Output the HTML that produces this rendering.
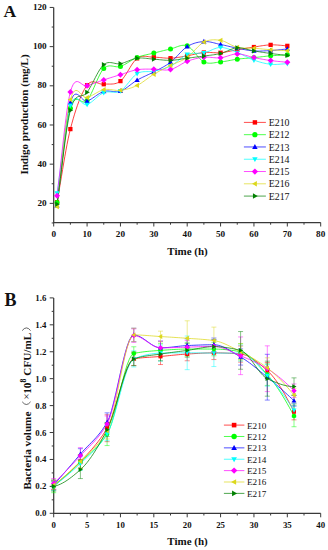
<!DOCTYPE html><html><head><meta charset="utf-8"><style>html,body{margin:0;padding:0;background:#fff;}svg{display:block;}text{font-family:"Liberation Serif",serif;}</style></head><body>
<svg width="328" height="550" viewBox="0 0 328 550">
<rect width="328" height="550" fill="#fff"/>
<text x="3.4" y="17.1" font-size="17.6" font-weight="bold" fill="#111">A</text>
<path d="M53.7,7.5 V222.5 H320.7" fill="none" stroke="#3a3a3a" stroke-width="1.25"/>
<text x="46.7" y="205.95" font-size="9.2" font-weight="bold" text-anchor="end" fill="#111">20</text>
<text x="46.7" y="166.77" font-size="9.2" font-weight="bold" text-anchor="end" fill="#111">40</text>
<text x="46.7" y="127.59" font-size="9.2" font-weight="bold" text-anchor="end" fill="#111">60</text>
<text x="46.7" y="88.41" font-size="9.2" font-weight="bold" text-anchor="end" fill="#111">80</text>
<text x="46.7" y="49.23" font-size="9.2" font-weight="bold" text-anchor="end" fill="#111">100</text>
<text x="46.7" y="10.05" font-size="9.2" font-weight="bold" text-anchor="end" fill="#111">120</text>
<text x="53.70" y="236.7" font-size="9.2" font-weight="bold" text-anchor="middle" fill="#111">0</text>
<text x="87.08" y="236.7" font-size="9.2" font-weight="bold" text-anchor="middle" fill="#111">10</text>
<text x="120.45" y="236.7" font-size="9.2" font-weight="bold" text-anchor="middle" fill="#111">20</text>
<text x="153.82" y="236.7" font-size="9.2" font-weight="bold" text-anchor="middle" fill="#111">30</text>
<text x="187.20" y="236.7" font-size="9.2" font-weight="bold" text-anchor="middle" fill="#111">40</text>
<text x="220.57" y="236.7" font-size="9.2" font-weight="bold" text-anchor="middle" fill="#111">50</text>
<text x="253.95" y="236.7" font-size="9.2" font-weight="bold" text-anchor="middle" fill="#111">60</text>
<text x="287.32" y="236.7" font-size="9.2" font-weight="bold" text-anchor="middle" fill="#111">70</text>
<text x="320.70" y="236.7" font-size="9.2" font-weight="bold" text-anchor="middle" fill="#111">80</text>
<path d="M49.7,203.35 H53.7 M49.7,164.17 H53.7 M49.7,124.99 H53.7 M49.7,85.81 H53.7 M49.7,46.63 H53.7 M49.7,7.45 H53.7 M51.7,222.94 H53.7 M51.7,183.76 H53.7 M51.7,144.58 H53.7 M51.7,105.40 H53.7 M51.7,66.22 H53.7 M51.7,27.04 H53.7 M53.70,222.5 V226.5 M87.08,222.5 V226.5 M120.45,222.5 V226.5 M153.82,222.5 V226.5 M187.20,222.5 V226.5 M220.57,222.5 V226.5 M253.95,222.5 V226.5 M287.32,222.5 V226.5 M320.70,222.5 V226.5 M70.39,222.5 V224.7 M103.76,222.5 V224.7 M137.14,222.5 V224.7 M170.51,222.5 V224.7 M203.89,222.5 V224.7 M237.26,222.5 V224.7 M270.64,222.5 V224.7 M304.01,222.5 V224.7" stroke="#3a3a3a" stroke-width="1" fill="none"/>
<text x="187.5" y="255" font-size="11" font-weight="bold" text-anchor="middle" fill="#111">Time (h)</text>
<text transform="translate(28.2,114.5) rotate(-90)" font-size="11" font-weight="bold" text-anchor="middle" fill="#111">Indigo production (mg/L)</text>
<path d="M57.04,202.17 L58.15,195.95 L59.26,189.51 L60.38,182.92 L61.49,176.26 L62.60,169.59 L63.71,163.00 L64.83,156.56 L65.94,150.34 L67.05,144.41 L68.16,138.84 L69.28,133.72 L70.39,129.10 L71.78,123.83 L73.17,118.85 L74.56,114.16 L75.95,109.76 L77.34,105.66 L78.73,101.85 L80.12,98.33 L81.51,95.11 L82.90,92.19 L84.29,89.56 L85.68,87.24 L87.08,85.22 L88.47,83.65 L89.86,82.60 L91.25,82.01 L92.64,81.80 L94.03,81.88 L95.42,82.19 L96.81,82.63 L98.20,83.14 L99.59,83.63 L100.98,84.03 L102.37,84.26 L103.76,84.24 L105.15,84.12 L106.54,84.07 L107.93,84.07 L109.33,84.08 L110.72,84.08 L112.11,84.03 L113.50,83.91 L114.89,83.68 L116.28,83.32 L117.67,82.79 L119.06,82.06 L120.45,81.11 L121.84,79.83 L123.23,78.21 L124.62,76.30 L126.01,74.19 L127.40,71.94 L128.79,69.62 L130.18,67.32 L131.57,65.09 L132.97,63.01 L134.36,61.15 L135.75,59.59 L137.14,58.38 L138.53,57.52 L139.92,56.92 L141.31,56.52 L142.70,56.32 L144.09,56.26 L145.48,56.31 L146.87,56.45 L148.26,56.64 L149.65,56.85 L151.04,57.03 L152.43,57.16 L153.82,57.21 L155.22,57.23 L156.61,57.29 L158.00,57.38 L159.39,57.50 L160.78,57.63 L162.17,57.77 L163.56,57.91 L164.95,58.03 L166.34,58.13 L167.73,58.19 L169.12,58.22 L170.51,58.19 L171.90,58.11 L173.29,58.00 L174.68,57.86 L176.07,57.69 L177.47,57.49 L178.86,57.28 L180.25,57.05 L181.64,56.82 L183.03,56.57 L184.42,56.32 L185.81,56.08 L187.20,55.84 L188.59,55.58 L189.98,55.30 L191.37,54.99 L192.76,54.67 L194.15,54.34 L195.54,54.01 L196.93,53.69 L198.32,53.39 L199.72,53.11 L201.11,52.87 L202.50,52.66 L203.89,52.51 L205.28,52.41 L206.67,52.37 L208.06,52.38 L209.45,52.43 L210.84,52.50 L212.23,52.58 L213.62,52.66 L215.01,52.74 L216.40,52.79 L217.79,52.81 L219.18,52.79 L220.57,52.70 L221.97,52.57 L223.36,52.39 L224.75,52.18 L226.14,51.95 L227.53,51.69 L228.92,51.42 L230.31,51.13 L231.70,50.85 L233.09,50.56 L234.48,50.28 L235.87,50.01 L237.26,49.76 L238.65,49.53 L240.04,49.29 L241.43,49.05 L242.82,48.81 L244.22,48.58 L245.61,48.34 L247.00,48.11 L248.39,47.89 L249.78,47.66 L251.17,47.44 L252.56,47.23 L253.95,47.02 L255.34,46.81 L256.73,46.59 L258.12,46.37 L259.51,46.14 L260.90,45.92 L262.29,45.71 L263.68,45.51 L265.07,45.33 L266.47,45.17 L267.86,45.04 L269.25,44.93 L270.64,44.87 L272.03,44.84 L273.42,44.85 L274.81,44.89 L276.20,44.96 L277.59,45.05 L278.98,45.16 L280.37,45.28 L281.76,45.40 L283.15,45.53 L284.54,45.65 L285.93,45.75 L287.32,45.85" fill="none" stroke="#ff0000" stroke-width="0.75"/>
<path d="M57.04,202.57 L58.15,194.40 L59.26,185.73 L60.38,176.72 L61.49,167.54 L62.60,158.36 L63.71,149.34 L64.83,140.67 L65.94,132.51 L67.05,125.02 L68.16,118.39 L69.28,112.77 L70.39,108.34 L71.78,104.34 L73.17,101.66 L74.56,100.07 L75.95,99.38 L77.34,99.37 L78.73,99.82 L80.12,100.53 L81.51,101.28 L82.90,101.87 L84.29,102.07 L85.68,101.69 L87.08,100.50 L88.47,98.59 L89.86,96.23 L91.25,93.52 L92.64,90.54 L94.03,87.40 L95.42,84.18 L96.81,80.98 L98.20,77.90 L99.59,75.02 L100.98,72.45 L102.37,70.27 L103.76,68.57 L105.15,67.37 L106.54,66.57 L107.93,66.10 L109.33,65.90 L110.72,65.91 L112.11,66.06 L113.50,66.29 L114.89,66.54 L116.28,66.74 L117.67,66.83 L119.06,66.74 L120.45,66.42 L121.84,65.89 L123.23,65.26 L124.62,64.53 L126.01,63.75 L127.40,62.91 L128.79,62.04 L130.18,61.17 L131.57,60.31 L132.97,59.49 L134.36,58.71 L135.75,58.01 L137.14,57.40 L138.53,56.88 L139.92,56.41 L141.31,55.99 L142.70,55.61 L144.09,55.27 L145.48,54.94 L146.87,54.64 L148.26,54.34 L149.65,54.05 L151.04,53.75 L152.43,53.43 L153.82,53.09 L155.22,52.74 L156.61,52.39 L158.00,52.03 L159.39,51.67 L160.78,51.32 L162.17,50.96 L163.56,50.62 L164.95,50.27 L166.34,49.94 L167.73,49.61 L169.12,49.29 L170.51,48.98 L171.90,48.62 L173.29,48.18 L174.68,47.68 L176.07,47.15 L177.47,46.63 L178.86,46.15 L180.25,45.74 L181.64,45.43 L183.03,45.26 L184.42,45.25 L185.81,45.43 L187.20,45.85 L188.59,46.56 L189.98,47.60 L191.37,48.89 L192.76,50.37 L194.15,51.99 L195.54,53.68 L196.93,55.38 L198.32,57.03 L199.72,58.57 L201.11,59.94 L202.50,61.07 L203.89,61.91 L205.28,62.48 L206.67,62.87 L208.06,63.10 L209.45,63.20 L210.84,63.19 L212.23,63.09 L213.62,62.92 L215.01,62.71 L216.40,62.48 L217.79,62.25 L219.18,62.06 L220.57,61.91 L221.97,61.77 L223.36,61.60 L224.75,61.39 L226.14,61.16 L227.53,60.90 L228.92,60.64 L230.31,60.37 L231.70,60.10 L233.09,59.83 L234.48,59.59 L235.87,59.36 L237.26,59.17 L238.65,59.00 L240.04,58.84 L241.43,58.70 L242.82,58.57 L244.22,58.44 L245.61,58.32 L247.00,58.21 L248.39,58.09 L249.78,57.98 L251.17,57.86 L252.56,57.73 L253.95,57.60 L255.34,57.46 L256.73,57.31 L258.12,57.16 L259.51,57.00 L260.90,56.84 L262.29,56.68 L263.68,56.53 L265.07,56.37 L266.47,56.23 L267.86,56.09 L269.25,55.96 L270.64,55.84 L272.03,55.73 L273.42,55.63 L274.81,55.54 L276.20,55.45 L277.59,55.37 L278.98,55.30 L280.37,55.23 L281.76,55.16 L283.15,55.08 L284.54,55.01 L285.93,54.94 L287.32,54.86" fill="none" stroke="#00ff00" stroke-width="0.75"/>
<path d="M57.04,205.70 L58.15,196.75 L59.26,187.22 L60.38,177.29 L61.49,167.16 L62.60,157.04 L63.71,147.11 L64.83,137.57 L65.94,128.63 L67.05,120.47 L68.16,113.29 L69.28,107.28 L70.39,102.66 L71.78,98.59 L73.17,95.94 L74.56,94.50 L75.95,94.05 L77.34,94.39 L78.73,95.31 L80.12,96.59 L81.51,98.02 L82.90,99.40 L84.29,100.51 L85.68,101.14 L87.08,101.09 L88.47,100.54 L89.86,99.85 L91.25,99.04 L92.64,98.14 L94.03,97.19 L95.42,96.22 L96.81,95.24 L98.20,94.31 L99.59,93.43 L100.98,92.65 L102.37,91.99 L103.76,91.49 L105.15,91.17 L106.54,91.02 L107.93,90.99 L109.33,91.07 L110.72,91.21 L112.11,91.38 L113.50,91.55 L114.89,91.67 L116.28,91.73 L117.67,91.67 L119.06,91.47 L120.45,91.10 L121.84,90.55 L123.23,89.85 L124.62,89.04 L126.01,88.12 L127.40,87.14 L128.79,86.10 L130.18,85.04 L131.57,83.97 L132.97,82.93 L134.36,81.92 L135.75,80.98 L137.14,80.13 L138.53,79.35 L139.92,78.61 L141.31,77.91 L142.70,77.23 L144.09,76.58 L145.48,75.93 L146.87,75.29 L148.26,74.64 L149.65,73.99 L151.04,73.32 L152.43,72.63 L153.82,71.90 L155.22,71.17 L156.61,70.45 L158.00,69.74 L159.39,69.03 L160.78,68.31 L162.17,67.57 L163.56,66.80 L164.95,66.00 L166.34,65.16 L167.73,64.27 L169.12,63.32 L170.51,62.30 L171.90,61.17 L173.29,59.92 L174.68,58.56 L176.07,57.14 L177.47,55.67 L178.86,54.18 L180.25,52.72 L181.64,51.30 L183.03,49.95 L184.42,48.70 L185.81,47.58 L187.20,46.63 L188.59,45.81 L189.98,45.08 L191.37,44.42 L192.76,43.85 L194.15,43.35 L195.54,42.92 L196.93,42.55 L198.32,42.25 L199.72,42.00 L201.11,41.80 L202.50,41.65 L203.89,41.54 L205.28,41.50 L206.67,41.55 L208.06,41.69 L209.45,41.89 L210.84,42.15 L212.23,42.45 L213.62,42.79 L215.01,43.14 L216.40,43.50 L217.79,43.85 L219.18,44.18 L220.57,44.48 L221.97,44.76 L223.36,45.06 L224.75,45.37 L226.14,45.69 L227.53,46.02 L228.92,46.35 L230.31,46.68 L231.70,47.00 L233.09,47.32 L234.48,47.62 L235.87,47.92 L237.26,48.20 L238.65,48.47 L240.04,48.75 L241.43,49.03 L242.82,49.30 L244.22,49.57 L245.61,49.83 L247.00,50.07 L248.39,50.29 L249.78,50.50 L251.17,50.68 L252.56,50.82 L253.95,50.94 L255.34,51.02 L256.73,51.07 L258.12,51.09 L259.51,51.08 L260.90,51.06 L262.29,51.01 L263.68,50.95 L265.07,50.88 L266.47,50.80 L267.86,50.72 L269.25,50.63 L270.64,50.55 L272.03,50.46 L273.42,50.35 L274.81,50.24 L276.20,50.11 L277.59,49.98 L278.98,49.84 L280.37,49.69 L281.76,49.55 L283.15,49.40 L284.54,49.26 L285.93,49.12 L287.32,48.98" fill="none" stroke="#0000ff" stroke-width="0.75"/>
<path d="M57.04,193.16 L58.15,185.54 L59.26,177.42 L60.38,168.95 L61.49,160.32 L62.60,151.69 L63.71,143.23 L64.83,135.10 L65.94,127.48 L67.05,120.53 L68.16,114.42 L69.28,109.32 L70.39,105.40 L71.78,101.98 L73.17,99.80 L74.56,98.66 L75.95,98.38 L77.34,98.78 L78.73,99.65 L80.12,100.83 L81.51,102.12 L82.90,103.33 L84.29,104.27 L85.68,104.76 L87.08,104.62 L88.47,103.98 L89.86,103.15 L91.25,102.18 L92.64,101.08 L94.03,99.91 L95.42,98.70 L96.81,97.49 L98.20,96.31 L99.59,95.20 L100.98,94.20 L102.37,93.34 L103.76,92.67 L105.15,92.21 L106.54,91.96 L107.93,91.87 L109.33,91.90 L110.72,91.99 L112.11,92.12 L113.50,92.22 L114.89,92.26 L116.28,92.19 L117.67,91.97 L119.06,91.56 L120.45,90.90 L121.84,89.96 L123.23,88.76 L124.62,87.34 L126.01,85.76 L127.40,84.07 L128.79,82.33 L130.18,80.59 L131.57,78.90 L132.97,77.30 L134.36,75.87 L135.75,74.64 L137.14,73.66 L138.53,72.95 L139.92,72.42 L141.31,72.05 L142.70,71.81 L144.09,71.68 L145.48,71.62 L146.87,71.60 L148.26,71.60 L149.65,71.58 L151.04,71.51 L152.43,71.37 L153.82,71.12 L155.22,70.81 L156.61,70.52 L158.00,70.22 L159.39,69.91 L160.78,69.59 L162.17,69.24 L163.56,68.87 L164.95,68.45 L166.34,67.98 L167.73,67.46 L169.12,66.88 L170.51,66.22 L171.90,65.45 L173.29,64.54 L174.68,63.52 L176.07,62.43 L177.47,61.29 L178.86,60.13 L180.25,58.99 L181.64,57.88 L183.03,56.85 L184.42,55.91 L185.81,55.11 L187.20,54.47 L188.59,53.99 L189.98,53.66 L191.37,53.45 L192.76,53.33 L194.15,53.29 L195.54,53.29 L196.93,53.31 L198.32,53.33 L199.72,53.33 L201.11,53.27 L202.50,53.13 L203.89,52.90 L205.28,52.55 L206.67,52.09 L208.06,51.56 L209.45,50.97 L210.84,50.36 L212.23,49.74 L213.62,49.15 L215.01,48.60 L216.40,48.13 L217.79,47.76 L219.18,47.51 L220.57,47.41 L221.97,47.46 L223.36,47.62 L224.75,47.88 L226.14,48.23 L227.53,48.66 L228.92,49.14 L230.31,49.67 L231.70,50.23 L233.09,50.81 L234.48,51.39 L235.87,51.96 L237.26,52.51 L238.65,53.07 L240.04,53.67 L241.43,54.32 L242.82,55.00 L244.22,55.69 L245.61,56.39 L247.00,57.08 L248.39,57.77 L249.78,58.43 L251.17,59.05 L252.56,59.63 L253.95,60.15 L255.34,60.63 L256.73,61.09 L258.12,61.53 L259.51,61.95 L260.90,62.35 L262.29,62.72 L263.68,63.06 L265.07,63.37 L266.47,63.65 L267.86,63.89 L269.25,64.09 L270.64,64.26 L272.03,64.38 L273.42,64.44 L274.81,64.44 L276.20,64.41 L277.59,64.35 L278.98,64.26 L280.37,64.16 L281.76,64.04 L283.15,63.93 L284.54,63.83 L285.93,63.74 L287.32,63.67" fill="none" stroke="#00ffff" stroke-width="0.75"/>
<path d="M57.04,195.71 L58.15,186.71 L59.26,177.13 L60.38,167.18 L61.49,157.03 L62.60,146.88 L63.71,136.92 L64.83,127.35 L65.94,118.35 L67.05,110.11 L68.16,102.82 L69.28,96.69 L70.39,91.88 L71.78,87.53 L73.17,84.50 L74.56,82.63 L75.95,81.71 L77.34,81.55 L78.73,81.96 L80.12,82.76 L81.51,83.75 L82.90,84.74 L84.29,85.54 L85.68,85.96 L87.08,85.81 L88.47,85.31 L89.86,84.81 L91.25,84.31 L92.64,83.81 L94.03,83.32 L95.42,82.82 L96.81,82.33 L98.20,81.84 L99.59,81.36 L100.98,80.88 L102.37,80.40 L103.76,79.93 L105.15,79.47 L106.54,79.01 L107.93,78.56 L109.33,78.11 L110.72,77.67 L112.11,77.23 L113.50,76.79 L114.89,76.36 L116.28,75.92 L117.67,75.50 L119.06,75.07 L120.45,74.64 L121.84,74.21 L123.23,73.75 L124.62,73.29 L126.01,72.82 L127.40,72.36 L128.79,71.90 L130.18,71.46 L131.57,71.04 L132.97,70.66 L134.36,70.31 L135.75,70.00 L137.14,69.75 L138.53,69.54 L139.92,69.39 L141.31,69.27 L142.70,69.19 L144.09,69.15 L145.48,69.12 L146.87,69.12 L148.26,69.12 L149.65,69.14 L151.04,69.15 L152.43,69.16 L153.82,69.16 L155.22,69.18 L156.61,69.27 L158.00,69.39 L159.39,69.54 L160.78,69.69 L162.17,69.83 L163.56,69.95 L164.95,70.02 L166.34,70.04 L167.73,69.97 L169.12,69.82 L170.51,69.55 L171.90,69.15 L173.29,68.63 L174.68,68.00 L176.07,67.29 L177.47,66.52 L178.86,65.72 L180.25,64.90 L181.64,64.08 L183.03,63.29 L184.42,62.56 L185.81,61.89 L187.20,61.32 L188.59,60.82 L189.98,60.34 L191.37,59.89 L192.76,59.47 L194.15,59.08 L195.54,58.71 L196.93,58.38 L198.32,58.08 L199.72,57.81 L201.11,57.57 L202.50,57.37 L203.89,57.21 L205.28,57.11 L206.67,57.09 L208.06,57.13 L209.45,57.22 L210.84,57.35 L212.23,57.49 L213.62,57.63 L215.01,57.76 L216.40,57.86 L217.79,57.90 L219.18,57.89 L220.57,57.80 L221.97,57.60 L223.36,57.32 L224.75,56.95 L226.14,56.54 L227.53,56.10 L228.92,55.64 L230.31,55.20 L231.70,54.79 L233.09,54.43 L234.48,54.14 L235.87,53.95 L237.26,53.88 L238.65,53.92 L240.04,54.07 L241.43,54.29 L242.82,54.58 L244.22,54.93 L245.61,55.31 L247.00,55.72 L248.39,56.13 L249.78,56.55 L251.17,56.94 L252.56,57.29 L253.95,57.60 L255.34,57.88 L256.73,58.15 L258.12,58.42 L259.51,58.68 L260.90,58.94 L262.29,59.19 L263.68,59.44 L265.07,59.68 L266.47,59.91 L267.86,60.13 L269.25,60.34 L270.64,60.54 L272.03,60.73 L273.42,60.90 L274.81,61.06 L276.20,61.21 L277.59,61.36 L278.98,61.49 L280.37,61.63 L281.76,61.76 L283.15,61.89 L284.54,62.02 L285.93,62.16 L287.32,62.30" fill="none" stroke="#ff00ff" stroke-width="0.75"/>
<path d="M57.04,206.68 L58.15,197.38 L59.26,187.46 L60.38,177.14 L61.49,166.62 L62.60,156.09 L63.71,145.77 L64.83,135.85 L65.94,126.55 L67.05,118.06 L68.16,110.59 L69.28,104.35 L70.39,99.52 L71.78,95.27 L73.17,92.48 L74.56,90.92 L75.95,90.40 L77.34,90.69 L78.73,91.58 L80.12,92.86 L81.51,94.31 L82.90,95.72 L84.29,96.87 L85.68,97.56 L87.08,97.56 L88.47,97.09 L89.86,96.50 L91.25,95.82 L92.64,95.08 L94.03,94.29 L95.42,93.49 L96.81,92.69 L98.20,91.93 L99.59,91.23 L100.98,90.61 L102.37,90.10 L103.76,89.73 L105.15,89.50 L106.54,89.40 L107.93,89.41 L109.33,89.50 L110.72,89.65 L112.11,89.84 L113.50,90.03 L114.89,90.21 L116.28,90.36 L117.67,90.44 L119.06,90.43 L120.45,90.32 L121.84,90.12 L123.23,89.89 L124.62,89.62 L126.01,89.32 L127.40,88.98 L128.79,88.60 L130.18,88.18 L131.57,87.72 L132.97,87.21 L134.36,86.66 L135.75,86.06 L137.14,85.42 L138.53,84.70 L139.92,83.89 L141.31,83.01 L142.70,82.07 L144.09,81.09 L145.48,80.08 L146.87,79.06 L148.26,78.03 L149.65,77.03 L151.04,76.05 L152.43,75.12 L153.82,74.25 L155.22,73.43 L156.61,72.64 L158.00,71.86 L159.39,71.11 L160.78,70.37 L162.17,69.65 L163.56,68.93 L164.95,68.23 L166.34,67.53 L167.73,66.83 L169.12,66.14 L170.51,65.44 L171.90,64.76 L173.29,64.14 L174.68,63.54 L176.07,62.97 L177.47,62.40 L178.86,61.82 L180.25,61.23 L181.64,60.59 L183.03,59.90 L184.42,59.15 L185.81,58.33 L187.20,57.40 L188.59,56.34 L189.98,55.12 L191.37,53.78 L192.76,52.35 L194.15,50.87 L195.54,49.37 L196.93,47.90 L198.32,46.48 L199.72,45.16 L201.11,43.97 L202.50,42.95 L203.89,42.12 L205.28,41.48 L206.67,40.95 L208.06,40.53 L209.45,40.21 L210.84,39.99 L212.23,39.85 L213.62,39.79 L215.01,39.80 L216.40,39.87 L217.79,39.99 L219.18,40.16 L220.57,40.36 L221.97,40.66 L223.36,41.10 L224.75,41.65 L226.14,42.29 L227.53,42.99 L228.92,43.73 L230.31,44.47 L231.70,45.20 L233.09,45.88 L234.48,46.50 L235.87,47.02 L237.26,47.41 L238.65,47.70 L240.04,47.90 L241.43,48.03 L242.82,48.11 L244.22,48.14 L245.61,48.15 L247.00,48.13 L248.39,48.11 L249.78,48.09 L251.17,48.09 L252.56,48.12 L253.95,48.20 L255.34,48.30 L256.73,48.42 L258.12,48.55 L259.51,48.68 L260.90,48.82 L262.29,48.97 L263.68,49.11 L265.07,49.26 L266.47,49.40 L267.86,49.53 L269.25,49.65 L270.64,49.76 L272.03,49.87 L273.42,49.96 L274.81,50.05 L276.20,50.13 L277.59,50.21 L278.98,50.29 L280.37,50.37 L281.76,50.44 L283.15,50.51 L284.54,50.59 L285.93,50.66 L287.32,50.74" fill="none" stroke="#dcd81c" stroke-width="0.75"/>
<path d="M57.04,204.13 L58.15,196.03 L59.26,187.47 L60.38,178.61 L61.49,169.59 L62.60,160.57 L63.71,151.70 L64.83,143.14 L65.94,135.04 L67.05,127.55 L68.16,120.83 L69.28,115.03 L70.39,110.30 L71.78,105.74 L73.17,102.30 L74.56,99.81 L75.95,98.11 L77.34,97.02 L78.73,96.37 L80.12,96.00 L81.51,95.73 L82.90,95.39 L84.29,94.81 L85.68,93.83 L87.08,92.27 L88.47,90.22 L89.86,87.92 L91.25,85.42 L92.64,82.79 L94.03,80.10 L95.42,77.40 L96.81,74.76 L98.20,72.24 L99.59,69.91 L100.98,67.83 L102.37,66.05 L103.76,64.65 L105.15,63.65 L106.54,63.00 L107.93,62.64 L109.33,62.52 L110.72,62.58 L112.11,62.78 L113.50,63.05 L114.89,63.35 L116.28,63.61 L117.67,63.79 L119.06,63.83 L120.45,63.67 L121.84,63.35 L123.23,62.95 L124.62,62.47 L126.01,61.94 L127.40,61.38 L128.79,60.81 L130.18,60.24 L131.57,59.70 L132.97,59.21 L134.36,58.78 L135.75,58.43 L137.14,58.19 L138.53,58.04 L139.92,57.97 L141.31,57.97 L142.70,58.03 L144.09,58.13 L145.48,58.26 L146.87,58.42 L148.26,58.59 L149.65,58.76 L151.04,58.92 L152.43,59.06 L153.82,59.17 L155.22,59.27 L156.61,59.39 L158.00,59.53 L159.39,59.67 L160.78,59.81 L162.17,59.95 L163.56,60.08 L164.95,60.19 L166.34,60.28 L167.73,60.34 L169.12,60.36 L170.51,60.34 L171.90,60.28 L173.29,60.18 L174.68,60.04 L176.07,59.87 L177.47,59.68 L178.86,59.47 L180.25,59.25 L181.64,59.03 L183.03,58.80 L184.42,58.59 L185.81,58.38 L187.20,58.19 L188.59,58.01 L189.98,57.83 L191.37,57.66 L192.76,57.48 L194.15,57.31 L195.54,57.14 L196.93,56.96 L198.32,56.78 L199.72,56.60 L201.11,56.42 L202.50,56.23 L203.89,56.03 L205.28,55.84 L206.67,55.67 L208.06,55.50 L209.45,55.33 L210.84,55.16 L212.23,54.98 L213.62,54.79 L215.01,54.58 L216.40,54.35 L217.79,54.10 L219.18,53.81 L220.57,53.49 L221.97,53.09 L223.36,52.62 L224.75,52.08 L226.14,51.50 L227.53,50.90 L228.92,50.29 L230.31,49.71 L231.70,49.16 L233.09,48.68 L234.48,48.28 L235.87,47.98 L237.26,47.81 L238.65,47.76 L240.04,47.82 L241.43,47.98 L242.82,48.22 L244.22,48.52 L245.61,48.86 L247.00,49.23 L248.39,49.61 L249.78,49.99 L251.17,50.35 L252.56,50.67 L253.95,50.94 L255.34,51.17 L256.73,51.41 L258.12,51.63 L259.51,51.85 L260.90,52.07 L262.29,52.29 L263.68,52.50 L265.07,52.70 L266.47,52.90 L267.86,53.10 L269.25,53.30 L270.64,53.49 L272.03,53.67 L273.42,53.85 L274.81,54.02 L276.20,54.18 L277.59,54.34 L278.98,54.50 L280.37,54.66 L281.76,54.81 L283.15,54.97 L284.54,55.13 L285.93,55.28 L287.32,55.45" fill="none" stroke="#008000" stroke-width="0.75"/>
<rect x="54.91" y="200.05" width="4.25" height="4.25" fill="#ff0000"/>
<rect x="68.26" y="126.98" width="4.25" height="4.25" fill="#ff0000"/>
<rect x="84.95" y="83.10" width="4.25" height="4.25" fill="#ff0000"/>
<rect x="101.64" y="82.12" width="4.25" height="4.25" fill="#ff0000"/>
<rect x="118.33" y="78.98" width="4.25" height="4.25" fill="#ff0000"/>
<rect x="135.01" y="56.26" width="4.25" height="4.25" fill="#ff0000"/>
<rect x="151.70" y="55.08" width="4.25" height="4.25" fill="#ff0000"/>
<rect x="168.39" y="56.06" width="4.25" height="4.25" fill="#ff0000"/>
<rect x="185.07" y="53.71" width="4.25" height="4.25" fill="#ff0000"/>
<rect x="201.76" y="50.38" width="4.25" height="4.25" fill="#ff0000"/>
<rect x="218.45" y="50.58" width="4.25" height="4.25" fill="#ff0000"/>
<rect x="235.14" y="47.64" width="4.25" height="4.25" fill="#ff0000"/>
<rect x="251.82" y="44.90" width="4.25" height="4.25" fill="#ff0000"/>
<rect x="268.51" y="42.74" width="4.25" height="4.25" fill="#ff0000"/>
<rect x="285.20" y="43.72" width="4.25" height="4.25" fill="#ff0000"/>
<circle cx="57.04" cy="202.57" r="2.50" fill="#00ff00"/>
<circle cx="70.39" cy="108.34" r="2.50" fill="#00ff00"/>
<circle cx="87.08" cy="100.50" r="2.50" fill="#00ff00"/>
<circle cx="103.76" cy="68.57" r="2.50" fill="#00ff00"/>
<circle cx="120.45" cy="66.42" r="2.50" fill="#00ff00"/>
<circle cx="137.14" cy="57.40" r="2.50" fill="#00ff00"/>
<circle cx="153.82" cy="53.09" r="2.50" fill="#00ff00"/>
<circle cx="170.51" cy="48.98" r="2.50" fill="#00ff00"/>
<circle cx="187.20" cy="45.85" r="2.50" fill="#00ff00"/>
<circle cx="203.89" cy="61.91" r="2.50" fill="#00ff00"/>
<circle cx="220.57" cy="61.91" r="2.50" fill="#00ff00"/>
<circle cx="237.26" cy="59.17" r="2.50" fill="#00ff00"/>
<circle cx="253.95" cy="57.60" r="2.50" fill="#00ff00"/>
<circle cx="270.64" cy="55.84" r="2.50" fill="#00ff00"/>
<circle cx="287.32" cy="54.86" r="2.50" fill="#00ff00"/>
<path d="M57.04,202.95 L59.66,207.58 L54.41,207.58 Z" fill="#0000ff"/>
<path d="M70.39,99.91 L73.01,104.53 L67.76,104.53 Z" fill="#0000ff"/>
<path d="M87.08,98.34 L89.70,102.97 L84.45,102.97 Z" fill="#0000ff"/>
<path d="M103.76,88.74 L106.39,93.37 L101.14,93.37 Z" fill="#0000ff"/>
<path d="M120.45,88.35 L123.08,92.97 L117.83,92.97 Z" fill="#0000ff"/>
<path d="M137.14,77.38 L139.76,82.00 L134.51,82.00 Z" fill="#0000ff"/>
<path d="M153.82,69.15 L156.45,73.78 L151.20,73.78 Z" fill="#0000ff"/>
<path d="M170.51,59.55 L173.14,64.18 L167.89,64.18 Z" fill="#0000ff"/>
<path d="M187.20,43.88 L189.82,48.51 L184.57,48.51 Z" fill="#0000ff"/>
<path d="M203.89,38.79 L206.51,43.41 L201.26,43.41 Z" fill="#0000ff"/>
<path d="M220.57,41.73 L223.20,46.35 L217.95,46.35 Z" fill="#0000ff"/>
<path d="M237.26,45.45 L239.89,50.07 L234.64,50.07 Z" fill="#0000ff"/>
<path d="M253.95,48.19 L256.57,52.81 L251.32,52.81 Z" fill="#0000ff"/>
<path d="M270.64,47.80 L273.26,52.42 L268.01,52.42 Z" fill="#0000ff"/>
<path d="M287.32,46.23 L289.95,50.86 L284.70,50.86 Z" fill="#0000ff"/>
<path d="M57.04,195.91 L59.66,191.29 L54.41,191.29 Z" fill="#00ffff"/>
<path d="M70.39,108.15 L73.01,103.53 L67.76,103.53 Z" fill="#00ffff"/>
<path d="M87.08,107.37 L89.70,102.74 L84.45,102.74 Z" fill="#00ffff"/>
<path d="M103.76,95.42 L106.39,90.79 L101.14,90.79 Z" fill="#00ffff"/>
<path d="M120.45,93.65 L123.08,89.03 L117.83,89.03 Z" fill="#00ffff"/>
<path d="M137.14,76.41 L139.76,71.79 L134.51,71.79 Z" fill="#00ffff"/>
<path d="M153.82,73.87 L156.45,69.24 L151.20,69.24 Z" fill="#00ffff"/>
<path d="M170.51,68.97 L173.14,64.34 L167.89,64.34 Z" fill="#00ffff"/>
<path d="M187.20,57.22 L189.82,52.59 L184.57,52.59 Z" fill="#00ffff"/>
<path d="M203.89,55.65 L206.51,51.02 L201.26,51.02 Z" fill="#00ffff"/>
<path d="M220.57,50.16 L223.20,45.54 L217.95,45.54 Z" fill="#00ffff"/>
<path d="M237.26,55.26 L239.89,50.63 L234.64,50.63 Z" fill="#00ffff"/>
<path d="M253.95,62.90 L256.57,58.27 L251.32,58.27 Z" fill="#00ffff"/>
<path d="M270.64,67.01 L273.26,62.39 L268.01,62.39 Z" fill="#00ffff"/>
<path d="M287.32,66.42 L289.95,61.80 L284.70,61.80 Z" fill="#00ffff"/>
<path d="M57.04,192.71 L60.04,195.71 L57.04,198.71 L54.04,195.71 Z" fill="#ff00ff"/>
<path d="M70.39,88.88 L73.39,91.88 L70.39,94.88 L67.39,91.88 Z" fill="#ff00ff"/>
<path d="M87.08,82.81 L90.08,85.81 L87.08,88.81 L84.08,85.81 Z" fill="#ff00ff"/>
<path d="M103.76,76.93 L106.76,79.93 L103.76,82.93 L100.76,79.93 Z" fill="#ff00ff"/>
<path d="M120.45,71.64 L123.45,74.64 L120.45,77.64 L117.45,74.64 Z" fill="#ff00ff"/>
<path d="M137.14,66.75 L140.14,69.75 L137.14,72.75 L134.14,69.75 Z" fill="#ff00ff"/>
<path d="M153.82,66.16 L156.82,69.16 L153.82,72.16 L150.82,69.16 Z" fill="#ff00ff"/>
<path d="M170.51,66.55 L173.51,69.55 L170.51,72.55 L167.51,69.55 Z" fill="#ff00ff"/>
<path d="M187.20,58.32 L190.20,61.32 L187.20,64.32 L184.20,61.32 Z" fill="#ff00ff"/>
<path d="M203.89,54.21 L206.89,57.21 L203.89,60.21 L200.89,57.21 Z" fill="#ff00ff"/>
<path d="M220.57,54.80 L223.57,57.80 L220.57,60.80 L217.57,57.80 Z" fill="#ff00ff"/>
<path d="M237.26,50.88 L240.26,53.88 L237.26,56.88 L234.26,53.88 Z" fill="#ff00ff"/>
<path d="M253.95,54.60 L256.95,57.60 L253.95,60.60 L250.95,57.60 Z" fill="#ff00ff"/>
<path d="M270.64,57.54 L273.64,60.54 L270.64,63.54 L267.64,60.54 Z" fill="#ff00ff"/>
<path d="M287.32,59.30 L290.32,62.30 L287.32,65.30 L284.32,62.30 Z" fill="#ff00ff"/>
<path d="M54.29,206.68 L58.91,204.06 L58.91,209.31 Z" fill="#dcd81c"/>
<path d="M67.64,99.52 L72.26,96.90 L72.26,102.15 Z" fill="#dcd81c"/>
<path d="M84.33,97.56 L88.95,94.94 L88.95,100.19 Z" fill="#dcd81c"/>
<path d="M101.01,89.73 L105.64,87.10 L105.64,92.35 Z" fill="#dcd81c"/>
<path d="M117.70,90.32 L122.33,87.69 L122.33,92.94 Z" fill="#dcd81c"/>
<path d="M134.39,85.42 L139.01,82.79 L139.01,88.04 Z" fill="#dcd81c"/>
<path d="M151.07,74.25 L155.70,71.63 L155.70,76.88 Z" fill="#dcd81c"/>
<path d="M167.76,65.44 L172.39,62.81 L172.39,68.06 Z" fill="#dcd81c"/>
<path d="M184.45,57.40 L189.07,54.78 L189.07,60.03 Z" fill="#dcd81c"/>
<path d="M201.14,42.12 L205.76,39.50 L205.76,44.75 Z" fill="#dcd81c"/>
<path d="M217.82,40.36 L222.45,37.74 L222.45,42.99 Z" fill="#dcd81c"/>
<path d="M234.51,47.41 L239.14,44.79 L239.14,50.04 Z" fill="#dcd81c"/>
<path d="M251.20,48.20 L255.82,45.57 L255.82,50.82 Z" fill="#dcd81c"/>
<path d="M267.89,49.76 L272.51,47.14 L272.51,52.39 Z" fill="#dcd81c"/>
<path d="M284.57,50.74 L289.20,48.12 L289.20,53.37 Z" fill="#dcd81c"/>
<path d="M59.79,204.13 L55.16,201.51 L55.16,206.76 Z" fill="#008000"/>
<path d="M73.14,110.30 L68.51,107.67 L68.51,112.92 Z" fill="#008000"/>
<path d="M89.83,92.27 L85.20,89.65 L85.20,94.90 Z" fill="#008000"/>
<path d="M106.51,64.65 L101.89,62.03 L101.89,67.28 Z" fill="#008000"/>
<path d="M123.20,63.67 L118.58,61.05 L118.58,66.30 Z" fill="#008000"/>
<path d="M139.89,58.19 L135.26,55.56 L135.26,60.81 Z" fill="#008000"/>
<path d="M156.57,59.17 L151.95,56.54 L151.95,61.79 Z" fill="#008000"/>
<path d="M173.26,60.34 L168.64,57.72 L168.64,62.97 Z" fill="#008000"/>
<path d="M189.95,58.19 L185.32,55.56 L185.32,60.81 Z" fill="#008000"/>
<path d="M206.64,56.03 L202.01,53.41 L202.01,58.66 Z" fill="#008000"/>
<path d="M223.32,53.49 L218.70,50.86 L218.70,56.11 Z" fill="#008000"/>
<path d="M240.01,47.81 L235.39,45.18 L235.39,50.43 Z" fill="#008000"/>
<path d="M256.70,50.94 L252.07,48.31 L252.07,53.56 Z" fill="#008000"/>
<path d="M273.39,53.49 L268.76,50.86 L268.76,56.11 Z" fill="#008000"/>
<path d="M290.07,55.45 L285.45,52.82 L285.45,58.07 Z" fill="#008000"/>
<path d="M243.9,122.40 H265.9" stroke="#ff0000" stroke-width="0.7"/>
<rect x="252.69" y="120.19" width="4.42" height="4.42" fill="#ff0000"/>
<text x="268.7" y="126.00" font-size="9.9" fill="#111">E210</text>
<path d="M243.9,134.68 H265.9" stroke="#00ff00" stroke-width="0.7"/>
<circle cx="254.90" cy="134.68" r="2.60" fill="#00ff00"/>
<text x="268.7" y="138.28" font-size="9.9" fill="#111">E212</text>
<path d="M243.9,146.96 H265.9" stroke="#0000ff" stroke-width="0.7"/>
<path d="M254.90,144.10 L257.63,148.91 L252.17,148.91 Z" fill="#0000ff"/>
<text x="268.7" y="150.56" font-size="9.9" fill="#111">E213</text>
<path d="M243.9,159.24 H265.9" stroke="#00ffff" stroke-width="0.7"/>
<path d="M254.90,162.10 L257.63,157.29 L252.17,157.29 Z" fill="#00ffff"/>
<text x="268.7" y="162.84" font-size="9.9" fill="#111">E214</text>
<path d="M243.9,171.52 H265.9" stroke="#ff00ff" stroke-width="0.7"/>
<path d="M254.90,168.40 L258.02,171.52 L254.90,174.64 L251.78,171.52 Z" fill="#ff00ff"/>
<text x="268.7" y="175.12" font-size="9.9" fill="#111">E215</text>
<path d="M243.9,183.80 H265.9" stroke="#dcd81c" stroke-width="0.7"/>
<path d="M252.04,183.80 L256.85,181.07 L256.85,186.53 Z" fill="#dcd81c"/>
<text x="268.7" y="187.40" font-size="9.9" fill="#111">E216</text>
<path d="M243.9,196.08 H265.9" stroke="#008000" stroke-width="0.7"/>
<path d="M257.76,196.08 L252.95,193.35 L252.95,198.81 Z" fill="#008000"/>
<text x="268.7" y="199.68" font-size="9.9" fill="#111">E217</text>
<text x="4.4" y="305.7" font-size="18" font-weight="bold" fill="#111">B</text>
<path d="M53.7,297.9 V513.3 H320.7" fill="none" stroke="#3a3a3a" stroke-width="1.25"/>
<text x="46.3" y="516.30" font-size="8.8" font-weight="bold" text-anchor="end" fill="#111">0.0</text>
<text x="46.3" y="489.37" font-size="8.8" font-weight="bold" text-anchor="end" fill="#111">0.2</text>
<text x="46.3" y="462.45" font-size="8.8" font-weight="bold" text-anchor="end" fill="#111">0.4</text>
<text x="46.3" y="435.52" font-size="8.8" font-weight="bold" text-anchor="end" fill="#111">0.6</text>
<text x="46.3" y="408.60" font-size="8.8" font-weight="bold" text-anchor="end" fill="#111">0.8</text>
<text x="46.3" y="381.67" font-size="8.8" font-weight="bold" text-anchor="end" fill="#111">1.0</text>
<text x="46.3" y="354.75" font-size="8.8" font-weight="bold" text-anchor="end" fill="#111">1.2</text>
<text x="46.3" y="327.82" font-size="8.8" font-weight="bold" text-anchor="end" fill="#111">1.4</text>
<text x="46.3" y="300.90" font-size="8.8" font-weight="bold" text-anchor="end" fill="#111">1.6</text>
<text x="53.70" y="527.6" font-size="8.8" font-weight="bold" text-anchor="middle" fill="#111">0</text>
<text x="87.08" y="527.6" font-size="8.8" font-weight="bold" text-anchor="middle" fill="#111">5</text>
<text x="120.45" y="527.6" font-size="8.8" font-weight="bold" text-anchor="middle" fill="#111">10</text>
<text x="153.82" y="527.6" font-size="8.8" font-weight="bold" text-anchor="middle" fill="#111">15</text>
<text x="187.20" y="527.6" font-size="8.8" font-weight="bold" text-anchor="middle" fill="#111">20</text>
<text x="220.57" y="527.6" font-size="8.8" font-weight="bold" text-anchor="middle" fill="#111">25</text>
<text x="253.95" y="527.6" font-size="8.8" font-weight="bold" text-anchor="middle" fill="#111">30</text>
<text x="287.32" y="527.6" font-size="8.8" font-weight="bold" text-anchor="middle" fill="#111">35</text>
<text x="320.70" y="527.6" font-size="8.8" font-weight="bold" text-anchor="middle" fill="#111">40</text>
<path d="M49.7,513.30 H53.7 M49.7,486.37 H53.7 M49.7,459.45 H53.7 M49.7,432.52 H53.7 M49.7,405.60 H53.7 M49.7,378.67 H53.7 M49.7,351.75 H53.7 M49.7,324.82 H53.7 M49.7,297.90 H53.7 M51.7,499.84 H53.7 M51.7,472.91 H53.7 M51.7,445.99 H53.7 M51.7,419.06 H53.7 M51.7,392.14 H53.7 M51.7,365.21 H53.7 M51.7,338.29 H53.7 M51.7,311.36 H53.7 M53.70,513.3 V517.3 M87.08,513.3 V517.3 M120.45,513.3 V517.3 M153.82,513.3 V517.3 M187.20,513.3 V517.3 M220.57,513.3 V517.3 M253.95,513.3 V517.3 M287.32,513.3 V517.3 M320.70,513.3 V517.3 M70.39,513.3 V515.5 M103.76,513.3 V515.5 M137.14,513.3 V515.5 M170.51,513.3 V515.5 M203.89,513.3 V515.5 M237.26,513.3 V515.5 M270.64,513.3 V515.5 M304.01,513.3 V515.5" stroke="#3a3a3a" stroke-width="1" fill="none"/>
<text x="187.5" y="545" font-size="11" font-weight="bold" text-anchor="middle" fill="#111">Time (h)</text>
<g transform="translate(30.9,0) rotate(-90)"><text x="-489.6" y="0" font-size="11.2" font-weight="bold" fill="#111">Bacteria volume</text><text x="-399.8" y="-0.6" font-size="11.2" fill="#111">×</text><text x="-393.8" y="0" font-size="11.2" font-weight="bold" fill="#111">10</text><text x="-382.5" y="-4.5" font-size="7.6" font-weight="bold" fill="#111">8</text><text x="-375.7" y="0" font-size="11.2" font-weight="bold" fill="#111">CFU/mL</text></g>
<path d="M22.2,401.8 Q26.4,407.2 30.6,401.8" fill="none" stroke="#222" stroke-width="0.7"/>
<path d="M22.2,330.6 Q26.4,325.2 30.6,330.6" fill="none" stroke="#222" stroke-width="0.7"/>
<path d="M53.70,480.32 V489.74 M51.20,480.32 H56.20 M51.20,489.74 H56.20 M80.40,454.74 V468.20 M77.90,454.74 H82.90 M77.90,468.20 H82.90 M107.10,414.75 V441.68 M104.60,414.75 H109.60 M104.60,441.68 H109.60 M133.80,352.15 V365.62 M131.30,352.15 H136.30 M131.30,365.62 H136.30 M160.50,348.38 V364.54 M158.00,348.38 H163.00 M158.00,364.54 H163.00 M187.20,347.31 V360.77 M184.70,347.31 H189.70 M184.70,360.77 H189.70 M213.90,346.10 V359.56 M211.40,346.10 H216.40 M211.40,359.56 H216.40 M240.60,345.96 V362.12 M238.10,345.96 H243.10 M238.10,362.12 H243.10 M267.30,362.52 V378.67 M264.80,362.52 H269.80 M264.80,378.67 H269.80 M294.00,403.72 V419.87 M291.50,403.72 H296.50 M291.50,419.87 H296.50" fill="none" stroke="#ff0000" stroke-width="0.6" opacity="0.8"/>
<path d="M53.70,480.05 V492.70 M51.20,480.05 H56.20 M51.20,492.70 H56.20 M80.40,455.41 V468.87 M77.90,455.41 H82.90 M77.90,468.87 H82.90 M107.10,422.43 V445.58 M104.60,422.43 H109.60 M104.60,445.58 H109.60 M133.80,346.77 V360.23 M131.30,346.77 H136.30 M131.30,360.23 H136.30 M160.50,343.67 V357.13 M158.00,343.67 H163.00 M158.00,357.13 H163.00 M187.20,342.33 V355.79 M184.70,342.33 H189.70 M184.70,355.79 H189.70 M213.90,342.33 V355.79 M211.40,342.33 H216.40 M211.40,355.79 H216.40 M240.60,343.67 V359.83 M238.10,343.67 H243.10 M238.10,359.83 H243.10 M267.30,363.87 V385.41 M264.80,363.87 H269.80 M264.80,385.41 H269.80 M294.00,405.20 V426.74 M291.50,405.20 H296.50 M291.50,426.74 H296.50" fill="none" stroke="#00ff00" stroke-width="0.6" opacity="0.8"/>
<path d="M53.70,480.32 V489.74 M51.20,480.32 H56.20 M51.20,489.74 H56.20 M80.40,448.68 V459.45 M77.90,448.68 H82.90 M77.90,459.45 H82.90 M107.10,412.87 V431.72 M104.60,412.87 H109.60 M104.60,431.72 H109.60 M133.80,328.19 V341.65 M131.30,328.19 H136.30 M131.30,341.65 H136.30 M160.50,341.11 V354.58 M158.00,341.11 H163.00 M158.00,354.58 H163.00 M187.20,338.83 V352.29 M184.70,338.83 H189.70 M184.70,352.29 H189.70 M213.90,338.02 V351.48 M211.40,338.02 H216.40 M211.40,351.48 H216.40 M240.60,348.92 V365.08 M238.10,348.92 H243.10 M238.10,365.08 H243.10 M267.30,354.31 V400.08 M264.80,354.31 H269.80 M264.80,400.08 H269.80 M294.00,395.37 V406.14 M291.50,395.37 H296.50 M291.50,406.14 H296.50" fill="none" stroke="#0000ff" stroke-width="0.6" opacity="0.8"/>
<path d="M53.70,480.99 V490.41 M51.20,480.99 H56.20 M51.20,490.41 H56.20 M80.40,456.76 V470.22 M77.90,456.76 H82.90 M77.90,470.22 H82.90 M107.10,427.27 V440.74 M104.60,427.27 H109.60 M104.60,440.74 H109.60 M133.80,350.81 V366.96 M131.30,350.81 H136.30 M131.30,366.96 H136.30 M160.50,345.02 V361.17 M158.00,345.02 H163.00 M158.00,361.17 H163.00 M187.20,336.00 V369.66 M184.70,336.00 H189.70 M184.70,369.66 H189.70 M213.90,339.63 V366.56 M211.40,339.63 H216.40 M211.40,366.56 H216.40 M240.60,345.02 V361.17 M238.10,345.02 H243.10 M238.10,361.17 H243.10 M267.30,364.67 V386.21 M264.80,364.67 H269.80 M264.80,386.21 H269.80 M294.00,403.58 V417.04 M291.50,403.58 H296.50 M291.50,417.04 H296.50" fill="none" stroke="#00ffff" stroke-width="0.6" opacity="0.8"/>
<path d="M53.70,478.57 V487.99 M51.20,478.57 H56.20 M51.20,487.99 H56.20 M80.40,447.60 V463.76 M77.90,447.60 H82.90 M77.90,463.76 H82.90 M107.10,415.97 V432.12 M104.60,415.97 H109.60 M104.60,432.12 H109.60 M133.80,328.86 V342.33 M131.30,328.86 H136.30 M131.30,342.33 H136.30 M160.50,341.11 V354.58 M158.00,341.11 H163.00 M158.00,354.58 H163.00 M187.20,340.44 V353.90 M184.70,340.44 H189.70 M184.70,353.90 H189.70 M213.90,339.63 V353.10 M211.40,339.63 H216.40 M211.40,353.10 H216.40 M240.60,336.94 V374.64 M238.10,336.94 H243.10 M238.10,374.64 H243.10 M267.30,345.83 V391.60 M264.80,345.83 H269.80 M264.80,391.60 H269.80 M294.00,383.93 V397.39 M291.50,383.93 H296.50 M291.50,397.39 H296.50" fill="none" stroke="#ff00ff" stroke-width="0.6" opacity="0.8"/>
<path d="M53.70,480.32 V489.74 M51.20,480.32 H56.20 M51.20,489.74 H56.20 M80.40,454.74 V468.20 M77.90,454.74 H82.90 M77.90,468.20 H82.90 M107.10,422.83 V438.99 M104.60,422.83 H109.60 M104.60,438.99 H109.60 M133.80,328.19 V341.65 M131.30,328.19 H136.30 M131.30,341.65 H136.30 M160.50,331.15 V341.92 M158.00,331.15 H163.00 M158.00,341.92 H163.00 M187.20,320.79 V355.79 M184.70,320.79 H189.70 M184.70,355.79 H189.70 M213.90,327.11 V354.04 M211.40,327.11 H216.40 M211.40,354.04 H216.40 M240.60,343.67 V359.83 M238.10,343.67 H243.10 M238.10,359.83 H243.10 M267.30,357.81 V378.00 M264.80,357.81 H269.80 M264.80,378.00 H269.80 M294.00,388.37 V401.83 M291.50,388.37 H296.50 M291.50,401.83 H296.50" fill="none" stroke="#dcd81c" stroke-width="0.6" opacity="0.8"/>
<path d="M53.70,481.66 V491.09 M51.20,481.66 H56.20 M51.20,491.09 H56.20 M80.40,460.80 V478.57 M77.90,460.80 H82.90 M77.90,478.57 H82.90 M107.10,423.10 V436.56 M104.60,423.10 H109.60 M104.60,436.56 H109.60 M133.80,352.15 V365.62 M131.30,352.15 H136.30 M131.30,365.62 H136.30 M160.50,347.31 V360.77 M158.00,347.31 H163.00 M158.00,360.77 H163.00 M187.20,343.67 V357.13 M184.70,343.67 H189.70 M184.70,357.13 H189.70 M213.90,339.90 V353.37 M211.40,339.90 H216.40 M211.40,353.37 H216.40 M240.60,331.56 V369.25 M238.10,331.56 H243.10 M238.10,369.25 H243.10 M267.30,361.17 V396.18 M264.80,361.17 H269.80 M264.80,396.18 H269.80 M294.00,377.87 V395.37 M291.50,377.87 H296.50 M291.50,395.37 H296.50" fill="none" stroke="#008000" stroke-width="0.6" opacity="0.8"/>
<path d="M53.70,485.03 L55.93,483.43 L58.15,481.76 L60.38,480.01 L62.60,478.19 L64.83,476.31 L67.05,474.36 L69.28,472.35 L71.50,470.28 L73.72,468.15 L75.95,465.97 L78.18,463.74 L80.40,461.47 L82.62,459.17 L84.85,456.85 L87.08,454.50 L89.30,452.09 L91.53,449.60 L93.75,447.01 L95.98,444.30 L98.20,441.45 L100.43,438.44 L102.65,435.24 L104.88,431.84 L107.10,428.22 L109.33,423.74 L111.55,417.99 L113.78,411.28 L116.00,403.93 L118.23,396.24 L120.45,388.52 L122.67,381.08 L124.90,374.22 L127.12,368.27 L129.35,363.52 L131.57,360.29 L133.80,358.89 L136.03,358.52 L138.25,358.22 L140.48,357.96 L142.70,357.74 L144.93,357.56 L147.15,357.39 L149.38,357.24 L151.60,357.10 L153.82,356.96 L156.05,356.81 L158.28,356.65 L160.50,356.46 L162.73,356.25 L164.95,356.04 L167.18,355.82 L169.40,355.59 L171.62,355.37 L173.85,355.15 L176.07,354.93 L178.30,354.73 L180.53,354.53 L182.75,354.35 L184.98,354.18 L187.20,354.04 L189.43,353.90 L191.65,353.76 L193.88,353.62 L196.10,353.49 L198.32,353.35 L200.55,353.23 L202.77,353.12 L205.00,353.02 L207.23,352.94 L209.45,352.88 L211.68,352.84 L213.90,352.83 L216.12,352.84 L218.35,352.86 L220.57,352.91 L222.80,352.97 L225.02,353.05 L227.25,353.15 L229.48,353.26 L231.70,353.39 L233.93,353.53 L236.15,353.69 L238.38,353.86 L240.60,354.04 L242.82,354.37 L245.05,354.98 L247.27,355.84 L249.50,356.92 L251.73,358.20 L253.95,359.65 L256.18,361.25 L258.40,362.97 L260.62,364.79 L262.85,366.69 L265.07,368.63 L267.30,370.60 L269.52,372.72 L271.75,375.14 L273.98,377.85 L276.20,380.81 L278.43,384.02 L280.65,387.46 L282.88,391.10 L285.10,394.93 L287.32,398.94 L289.55,403.09 L291.77,407.39 L294.00,411.79" fill="none" stroke="#ff0000" stroke-width="0.75"/>
<path d="M53.70,486.37 L55.93,484.50 L58.15,482.60 L60.38,480.68 L62.60,478.72 L64.83,476.74 L67.05,474.73 L69.28,472.69 L71.50,470.63 L73.72,468.55 L75.95,466.44 L78.18,464.30 L80.40,462.14 L82.62,460.03 L84.85,458.01 L87.08,456.04 L89.30,454.08 L91.53,452.09 L93.75,450.03 L95.98,447.86 L98.20,445.55 L100.43,443.05 L102.65,440.31 L104.88,437.31 L107.10,434.01 L109.33,429.54 L111.55,423.35 L113.78,415.84 L116.00,407.40 L118.23,398.41 L120.45,389.29 L122.67,380.41 L124.90,372.17 L127.12,364.96 L129.35,359.19 L131.57,355.24 L133.80,353.50 L136.03,353.03 L138.25,352.62 L140.48,352.27 L142.70,351.95 L144.93,351.68 L147.15,351.44 L149.38,351.23 L151.60,351.04 L153.82,350.87 L156.05,350.71 L158.28,350.56 L160.50,350.40 L162.73,350.25 L164.95,350.09 L167.18,349.93 L169.40,349.78 L171.62,349.63 L173.85,349.50 L176.07,349.37 L178.30,349.27 L180.53,349.18 L182.75,349.11 L184.98,349.07 L187.20,349.06 L189.43,349.06 L191.65,349.06 L193.88,349.06 L196.10,349.06 L198.32,349.06 L200.55,349.06 L202.77,349.06 L205.00,349.06 L207.23,349.06 L209.45,349.06 L211.68,349.06 L213.90,349.06 L216.12,349.08 L218.35,349.15 L220.57,349.25 L222.80,349.40 L225.02,349.58 L227.25,349.80 L229.48,350.05 L231.70,350.34 L233.93,350.65 L236.15,350.99 L238.38,351.36 L240.60,351.75 L242.82,352.35 L245.05,353.32 L247.27,354.62 L249.50,356.22 L251.73,358.06 L253.95,360.11 L256.18,362.34 L258.40,364.70 L260.62,367.14 L262.85,369.64 L265.07,372.15 L267.30,374.64 L269.52,377.19 L271.75,379.94 L273.98,382.87 L276.20,385.97 L278.43,389.24 L280.65,392.66 L282.88,396.24 L285.10,399.94 L287.32,403.78 L289.55,407.74 L291.77,411.80 L294.00,415.97" fill="none" stroke="#00ff00" stroke-width="0.75"/>
<path d="M53.70,485.03 L55.93,482.48 L58.15,479.92 L60.38,477.36 L62.60,474.80 L64.83,472.22 L67.05,469.65 L69.28,467.06 L71.50,464.48 L73.72,461.88 L75.95,459.28 L78.18,456.68 L80.40,454.06 L82.62,451.54 L84.85,449.16 L87.08,446.87 L89.30,444.63 L91.53,442.39 L93.75,440.08 L95.98,437.68 L98.20,435.11 L100.43,432.34 L102.65,429.31 L104.88,425.98 L107.10,422.29 L109.33,417.31 L111.55,410.43 L113.78,402.09 L116.00,392.74 L118.23,382.82 L120.45,372.78 L122.67,363.07 L124.90,354.12 L127.12,346.39 L129.35,340.32 L131.57,336.34 L133.80,334.92 L136.03,335.18 L138.25,335.88 L140.48,336.94 L142.70,338.27 L144.93,339.78 L147.15,341.38 L149.38,342.98 L151.60,344.50 L153.82,345.83 L156.05,346.89 L158.28,347.59 L160.50,347.85 L162.73,347.81 L164.95,347.70 L167.18,347.54 L169.40,347.34 L171.62,347.11 L173.85,346.85 L176.07,346.59 L178.30,346.33 L180.53,346.08 L182.75,345.86 L184.98,345.69 L187.20,345.56 L189.43,345.46 L191.65,345.36 L193.88,345.26 L196.10,345.17 L198.32,345.08 L200.55,345.00 L202.77,344.93 L205.00,344.87 L207.23,344.82 L209.45,344.78 L211.68,344.76 L213.90,344.75 L216.12,344.89 L218.35,345.30 L220.57,345.95 L222.80,346.80 L225.02,347.81 L227.25,348.97 L229.48,350.23 L231.70,351.56 L233.93,352.94 L236.15,354.33 L238.38,355.69 L240.60,357.00 L242.82,358.33 L245.05,359.76 L247.27,361.28 L249.50,362.88 L251.73,364.56 L253.95,366.29 L256.18,368.06 L258.40,369.87 L260.62,371.70 L262.85,373.53 L265.07,375.37 L267.30,377.19 L269.52,379.02 L271.75,380.87 L273.98,382.75 L276.20,384.65 L278.43,386.58 L280.65,388.54 L282.88,390.51 L285.10,392.52 L287.32,394.54 L289.55,396.59 L291.77,398.66 L294.00,400.75" fill="none" stroke="#0000ff" stroke-width="0.75"/>
<path d="M53.70,485.70 L55.93,484.13 L58.15,482.49 L60.38,480.81 L62.60,479.07 L64.83,477.28 L67.05,475.44 L69.28,473.56 L71.50,471.63 L73.72,469.65 L75.95,467.64 L78.18,465.58 L80.40,463.49 L82.62,461.40 L84.85,459.35 L87.08,457.30 L89.30,455.23 L91.53,453.09 L93.75,450.87 L95.98,448.53 L98.20,446.05 L100.43,443.38 L102.65,440.50 L104.88,437.39 L107.10,434.01 L109.33,429.63 L111.55,423.79 L113.78,416.82 L116.00,409.05 L118.23,400.83 L120.45,392.50 L122.67,384.38 L124.90,376.82 L127.12,370.15 L129.35,364.71 L131.57,360.85 L133.80,358.89 L136.03,358.02 L138.25,357.22 L140.48,356.49 L142.70,355.83 L144.93,355.24 L147.15,354.71 L149.38,354.26 L151.60,353.88 L153.82,353.57 L156.05,353.34 L158.28,353.18 L160.50,353.10 L162.73,353.05 L164.95,353.02 L167.18,352.98 L169.40,352.95 L171.62,352.92 L173.85,352.90 L176.07,352.88 L178.30,352.86 L180.53,352.84 L182.75,352.84 L184.98,352.83 L187.20,352.83 L189.43,352.83 L191.65,352.85 L193.88,352.87 L196.10,352.90 L198.32,352.93 L200.55,352.96 L202.77,352.99 L205.00,353.03 L207.23,353.05 L209.45,353.08 L211.68,353.09 L213.90,353.10 L216.12,353.10 L218.35,353.10 L220.57,353.10 L222.80,353.10 L225.02,353.10 L227.25,353.10 L229.48,353.10 L231.70,353.10 L233.93,353.10 L236.15,353.10 L238.38,353.10 L240.60,353.10 L242.82,353.36 L245.05,354.12 L247.27,355.31 L249.50,356.87 L251.73,358.74 L253.95,360.87 L256.18,363.18 L258.40,365.61 L260.62,368.12 L262.85,370.64 L265.07,373.10 L267.30,375.44 L269.52,377.78 L271.75,380.23 L273.98,382.79 L276.20,385.47 L278.43,388.26 L280.65,391.14 L282.88,394.12 L285.10,397.20 L287.32,400.36 L289.55,403.60 L291.77,406.92 L294.00,410.31" fill="none" stroke="#00ffff" stroke-width="0.75"/>
<path d="M53.70,483.28 L55.93,481.13 L58.15,478.96 L60.38,476.75 L62.60,474.52 L64.83,472.26 L67.05,469.97 L69.28,467.65 L71.50,465.31 L73.72,462.94 L75.95,460.54 L78.18,458.12 L80.40,455.68 L82.62,453.29 L84.85,451.00 L87.08,448.78 L89.30,446.56 L91.53,444.32 L93.75,442.00 L95.98,439.57 L98.20,436.97 L100.43,434.16 L102.65,431.10 L104.88,427.74 L107.10,424.04 L109.33,419.04 L111.55,412.10 L113.78,403.67 L116.00,394.21 L118.23,384.17 L120.45,373.99 L122.67,364.15 L124.90,355.07 L127.12,347.23 L129.35,341.07 L131.57,337.04 L133.80,335.59 L136.03,335.84 L138.25,336.50 L140.48,337.51 L142.70,338.77 L144.93,340.20 L147.15,341.72 L149.38,343.24 L151.60,344.67 L153.82,345.93 L156.05,346.94 L158.28,347.60 L160.50,347.85 L162.73,347.84 L164.95,347.81 L167.18,347.78 L169.40,347.73 L171.62,347.67 L173.85,347.60 L176.07,347.53 L178.30,347.46 L180.53,347.38 L182.75,347.31 L184.98,347.24 L187.20,347.17 L189.43,347.11 L191.65,347.03 L193.88,346.94 L196.10,346.85 L198.32,346.76 L200.55,346.68 L202.77,346.59 L205.00,346.52 L207.23,346.46 L209.45,346.41 L211.68,346.38 L213.90,346.37 L216.12,346.48 L218.35,346.81 L220.57,347.33 L222.80,348.00 L225.02,348.81 L227.25,349.71 L229.48,350.70 L231.70,351.73 L233.93,352.78 L236.15,353.83 L238.38,354.84 L240.60,355.79 L242.82,356.70 L245.05,357.63 L247.27,358.58 L249.50,359.55 L251.73,360.55 L253.95,361.58 L256.18,362.65 L258.40,363.76 L260.62,364.92 L262.85,366.12 L265.07,367.39 L267.30,368.71 L269.52,370.12 L271.75,371.61 L273.98,373.19 L276.20,374.85 L278.43,376.59 L280.65,378.41 L282.88,380.30 L285.10,382.25 L287.32,384.27 L289.55,386.35 L291.77,388.48 L294.00,390.66" fill="none" stroke="#ff00ff" stroke-width="0.75"/>
<path d="M53.70,485.03 L55.93,483.33 L58.15,481.58 L60.38,479.77 L62.60,477.92 L64.83,476.02 L67.05,474.07 L69.28,472.07 L71.50,470.03 L73.72,467.95 L75.95,465.83 L78.18,463.67 L80.40,461.47 L82.62,459.30 L84.85,457.20 L87.08,455.13 L89.30,453.04 L91.53,450.90 L93.75,448.66 L95.98,446.28 L98.20,443.73 L100.43,440.96 L102.65,437.92 L104.88,434.59 L107.10,430.91 L109.33,425.77 L111.55,418.43 L113.78,409.39 L116.00,399.16 L118.23,388.23 L120.45,377.12 L122.67,366.33 L124.90,356.37 L127.12,347.75 L129.35,340.96 L131.57,336.52 L133.80,334.92 L136.03,334.94 L138.25,335.00 L140.48,335.10 L142.70,335.22 L144.93,335.36 L147.15,335.52 L149.38,335.69 L151.60,335.87 L153.82,336.05 L156.05,336.22 L158.28,336.39 L160.50,336.54 L162.73,336.68 L164.95,336.82 L167.18,336.95 L169.40,337.09 L171.62,337.23 L173.85,337.37 L176.07,337.52 L178.30,337.66 L180.53,337.81 L182.75,337.97 L184.98,338.12 L187.20,338.29 L189.43,338.45 L191.65,338.60 L193.88,338.75 L196.10,338.89 L198.32,339.04 L200.55,339.20 L202.77,339.38 L205.00,339.57 L207.23,339.78 L209.45,340.01 L211.68,340.28 L213.90,340.58 L216.12,340.98 L218.35,341.54 L220.57,342.24 L222.80,343.06 L225.02,343.98 L227.25,344.99 L229.48,346.06 L231.70,347.18 L233.93,348.32 L236.15,349.48 L238.38,350.63 L240.60,351.75 L242.82,352.86 L245.05,354.01 L247.27,355.18 L249.50,356.39 L251.73,357.65 L253.95,358.95 L256.18,360.29 L258.40,361.69 L260.62,363.15 L262.85,364.67 L265.07,366.25 L267.30,367.90 L269.52,369.65 L271.75,371.51 L273.98,373.47 L276.20,375.53 L278.43,377.70 L280.65,379.95 L282.88,382.28 L285.10,384.70 L287.32,387.20 L289.55,389.77 L291.77,392.40 L294.00,395.10" fill="none" stroke="#dcd81c" stroke-width="0.75"/>
<path d="M53.70,486.37 L55.93,485.84 L58.15,485.09 L60.38,484.15 L62.60,483.03 L64.83,481.75 L67.05,480.33 L69.28,478.78 L71.50,477.12 L73.72,475.36 L75.95,473.52 L78.18,471.63 L80.40,469.68 L82.62,467.57 L84.85,465.19 L87.08,462.54 L89.30,459.64 L91.53,456.52 L93.75,453.19 L95.98,449.67 L98.20,445.98 L100.43,442.13 L102.65,438.15 L104.88,434.04 L107.10,429.83 L109.33,424.92 L111.55,418.88 L113.78,412.00 L116.00,404.55 L118.23,396.83 L120.45,389.11 L122.67,381.69 L124.90,374.84 L127.12,368.85 L129.35,364.01 L131.57,360.59 L133.80,358.89 L136.03,358.18 L138.25,357.57 L140.48,357.05 L142.70,356.59 L144.93,356.20 L147.15,355.85 L149.38,355.53 L151.60,355.24 L153.82,354.95 L156.05,354.67 L158.28,354.37 L160.50,354.04 L162.73,353.70 L164.95,353.37 L167.18,353.06 L169.40,352.75 L171.62,352.46 L173.85,352.16 L176.07,351.88 L178.30,351.59 L180.53,351.30 L182.75,351.01 L184.98,350.71 L187.20,350.40 L189.43,350.07 L191.65,349.70 L193.88,349.29 L196.10,348.88 L198.32,348.46 L200.55,348.06 L202.77,347.68 L205.00,347.34 L207.23,347.05 L209.45,346.83 L211.68,346.68 L213.90,346.63 L216.12,346.67 L218.35,346.76 L220.57,346.91 L222.80,347.12 L225.02,347.38 L227.25,347.69 L229.48,348.04 L231.70,348.44 L233.93,348.88 L236.15,349.35 L238.38,349.86 L240.60,350.40 L242.82,351.35 L245.05,352.98 L247.27,355.18 L249.50,357.80 L251.73,360.73 L253.95,363.82 L256.18,366.96 L258.40,370.00 L260.62,372.83 L262.85,375.30 L265.07,377.29 L267.30,378.67 L269.52,379.70 L271.75,380.70 L273.98,381.66 L276.20,382.57 L278.43,383.42 L280.65,384.20 L282.88,384.89 L285.10,385.48 L287.32,385.96 L289.55,386.32 L291.77,386.54 L294.00,386.62" fill="none" stroke="#008000" stroke-width="0.75"/>
<rect x="51.75" y="483.07" width="3.91" height="3.91" fill="#ff0000"/>
<rect x="78.45" y="459.51" width="3.91" height="3.91" fill="#ff0000"/>
<rect x="105.14" y="426.26" width="3.91" height="3.91" fill="#ff0000"/>
<rect x="131.84" y="356.93" width="3.91" height="3.91" fill="#ff0000"/>
<rect x="158.54" y="354.51" width="3.91" height="3.91" fill="#ff0000"/>
<rect x="185.24" y="352.08" width="3.91" height="3.91" fill="#ff0000"/>
<rect x="211.94" y="350.87" width="3.91" height="3.91" fill="#ff0000"/>
<rect x="238.65" y="352.08" width="3.91" height="3.91" fill="#ff0000"/>
<rect x="265.35" y="368.64" width="3.91" height="3.91" fill="#ff0000"/>
<rect x="292.05" y="409.84" width="3.91" height="3.91" fill="#ff0000"/>
<circle cx="53.70" cy="486.37" r="2.30" fill="#00ff00"/>
<circle cx="80.40" cy="462.14" r="2.30" fill="#00ff00"/>
<circle cx="107.10" cy="434.01" r="2.30" fill="#00ff00"/>
<circle cx="133.80" cy="353.50" r="2.30" fill="#00ff00"/>
<circle cx="160.50" cy="350.40" r="2.30" fill="#00ff00"/>
<circle cx="187.20" cy="349.06" r="2.30" fill="#00ff00"/>
<circle cx="213.90" cy="349.06" r="2.30" fill="#00ff00"/>
<circle cx="240.60" cy="351.75" r="2.30" fill="#00ff00"/>
<circle cx="267.30" cy="374.64" r="2.30" fill="#00ff00"/>
<circle cx="294.00" cy="415.97" r="2.30" fill="#00ff00"/>
<path d="M53.70,482.50 L56.12,486.75 L51.29,486.75 Z" fill="#0000ff"/>
<path d="M80.40,451.53 L82.82,455.79 L77.98,455.79 Z" fill="#0000ff"/>
<path d="M107.10,419.76 L109.52,424.02 L104.68,424.02 Z" fill="#0000ff"/>
<path d="M133.80,332.39 L136.22,336.65 L131.39,336.65 Z" fill="#0000ff"/>
<path d="M160.50,345.32 L162.91,349.57 L158.09,349.57 Z" fill="#0000ff"/>
<path d="M187.20,343.03 L189.61,347.28 L184.78,347.28 Z" fill="#0000ff"/>
<path d="M213.90,342.22 L216.31,346.47 L211.48,346.47 Z" fill="#0000ff"/>
<path d="M240.60,354.47 L243.02,358.73 L238.19,358.73 Z" fill="#0000ff"/>
<path d="M267.30,374.66 L269.72,378.92 L264.88,378.92 Z" fill="#0000ff"/>
<path d="M294.00,398.22 L296.42,402.48 L291.58,402.48 Z" fill="#0000ff"/>
<path d="M53.70,488.23 L56.12,483.98 L51.29,483.98 Z" fill="#00ffff"/>
<path d="M80.40,466.02 L82.82,461.76 L77.98,461.76 Z" fill="#00ffff"/>
<path d="M107.10,436.54 L109.52,432.28 L104.68,432.28 Z" fill="#00ffff"/>
<path d="M133.80,361.42 L136.22,357.16 L131.39,357.16 Z" fill="#00ffff"/>
<path d="M160.50,355.63 L162.91,351.37 L158.09,351.37 Z" fill="#00ffff"/>
<path d="M187.20,355.36 L189.61,351.10 L184.78,351.10 Z" fill="#00ffff"/>
<path d="M213.90,355.63 L216.31,351.37 L211.48,351.37 Z" fill="#00ffff"/>
<path d="M240.60,355.63 L243.02,351.37 L238.19,351.37 Z" fill="#00ffff"/>
<path d="M267.30,377.97 L269.72,373.72 L264.88,373.72 Z" fill="#00ffff"/>
<path d="M294.00,412.84 L296.42,408.59 L291.58,408.59 Z" fill="#00ffff"/>
<path d="M53.70,480.52 L56.46,483.28 L53.70,486.04 L50.94,483.28 Z" fill="#ff00ff"/>
<path d="M80.40,452.92 L83.16,455.68 L80.40,458.44 L77.64,455.68 Z" fill="#ff00ff"/>
<path d="M107.10,421.28 L109.86,424.04 L107.10,426.80 L104.34,424.04 Z" fill="#ff00ff"/>
<path d="M133.80,332.83 L136.56,335.59 L133.80,338.35 L131.04,335.59 Z" fill="#ff00ff"/>
<path d="M160.50,345.09 L163.26,347.85 L160.50,350.61 L157.74,347.85 Z" fill="#ff00ff"/>
<path d="M187.20,344.41 L189.96,347.17 L187.20,349.93 L184.44,347.17 Z" fill="#ff00ff"/>
<path d="M213.90,343.61 L216.66,346.37 L213.90,349.12 L211.14,346.37 Z" fill="#ff00ff"/>
<path d="M240.60,353.03 L243.36,355.79 L240.60,358.55 L237.84,355.79 Z" fill="#ff00ff"/>
<path d="M267.30,365.95 L270.06,368.71 L267.30,371.47 L264.54,368.71 Z" fill="#ff00ff"/>
<path d="M294.00,387.90 L296.76,390.66 L294.00,393.42 L291.24,390.66 Z" fill="#ff00ff"/>
<path d="M51.17,485.03 L55.43,482.61 L55.43,487.44 Z" fill="#dcd81c"/>
<path d="M77.87,461.47 L82.12,459.05 L82.12,463.88 Z" fill="#dcd81c"/>
<path d="M104.57,430.91 L108.82,428.49 L108.82,433.32 Z" fill="#dcd81c"/>
<path d="M131.27,334.92 L135.53,332.51 L135.53,337.34 Z" fill="#dcd81c"/>
<path d="M157.97,336.54 L162.22,334.12 L162.22,338.95 Z" fill="#dcd81c"/>
<path d="M184.67,338.29 L188.92,335.87 L188.92,340.70 Z" fill="#dcd81c"/>
<path d="M211.37,340.58 L215.62,338.16 L215.62,342.99 Z" fill="#dcd81c"/>
<path d="M238.07,351.75 L242.33,349.33 L242.33,354.17 Z" fill="#dcd81c"/>
<path d="M264.77,367.90 L269.03,365.49 L269.03,370.32 Z" fill="#dcd81c"/>
<path d="M291.47,395.10 L295.73,392.68 L295.73,397.51 Z" fill="#dcd81c"/>
<path d="M56.23,486.37 L51.98,483.96 L51.98,488.79 Z" fill="#008000"/>
<path d="M82.93,469.68 L78.68,467.27 L78.68,472.10 Z" fill="#008000"/>
<path d="M109.63,429.83 L105.38,427.42 L105.38,432.25 Z" fill="#008000"/>
<path d="M136.33,358.89 L132.08,356.47 L132.08,361.30 Z" fill="#008000"/>
<path d="M163.03,354.04 L158.78,351.62 L158.78,356.45 Z" fill="#008000"/>
<path d="M189.73,350.40 L185.47,347.99 L185.47,352.82 Z" fill="#008000"/>
<path d="M216.43,346.63 L212.17,344.22 L212.17,349.05 Z" fill="#008000"/>
<path d="M243.13,350.40 L238.88,347.99 L238.88,352.82 Z" fill="#008000"/>
<path d="M269.83,378.67 L265.57,376.26 L265.57,381.09 Z" fill="#008000"/>
<path d="M296.53,386.62 L292.27,384.20 L292.27,389.03 Z" fill="#008000"/>
<path d="M223.9,425.10 H244.4" stroke="#ff0000" stroke-width="0.7"/>
<rect x="231.81" y="422.81" width="4.59" height="4.59" fill="#ff0000"/>
<text x="247.0" y="428.50" font-size="9.2" fill="#111">E210</text>
<path d="M223.9,436.48 H244.4" stroke="#00ff00" stroke-width="0.7"/>
<circle cx="234.10" cy="436.48" r="2.70" fill="#00ff00"/>
<text x="247.0" y="439.88" font-size="9.2" fill="#111">E212</text>
<path d="M223.9,447.86 H244.4" stroke="#0000ff" stroke-width="0.7"/>
<path d="M234.10,444.89 L236.94,449.88 L231.26,449.88 Z" fill="#0000ff"/>
<text x="247.0" y="451.26" font-size="9.2" fill="#111">E213</text>
<path d="M223.9,459.24 H244.4" stroke="#00ffff" stroke-width="0.7"/>
<path d="M234.10,462.21 L236.94,457.22 L231.26,457.22 Z" fill="#00ffff"/>
<text x="247.0" y="462.64" font-size="9.2" fill="#111">E214</text>
<path d="M223.9,470.62 H244.4" stroke="#ff00ff" stroke-width="0.7"/>
<path d="M234.10,467.38 L237.34,470.62 L234.10,473.86 L230.86,470.62 Z" fill="#ff00ff"/>
<text x="247.0" y="474.02" font-size="9.2" fill="#111">E215</text>
<path d="M223.9,482.00 H244.4" stroke="#dcd81c" stroke-width="0.7"/>
<path d="M231.13,482.00 L236.12,479.17 L236.12,484.83 Z" fill="#dcd81c"/>
<text x="247.0" y="485.40" font-size="9.2" fill="#111">E216</text>
<path d="M223.9,493.38 H244.4" stroke="#008000" stroke-width="0.7"/>
<path d="M237.07,493.38 L232.07,490.55 L232.07,496.21 Z" fill="#008000"/>
<text x="247.0" y="496.78" font-size="9.2" fill="#111">E217</text>
</svg></body></html>
